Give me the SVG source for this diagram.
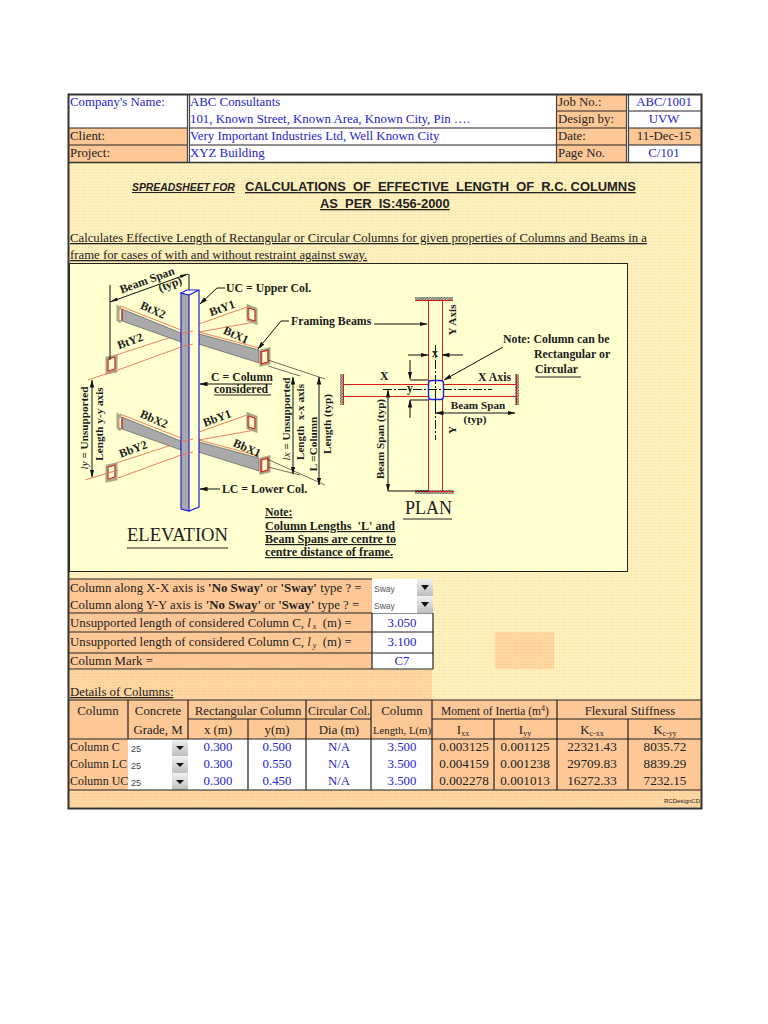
<svg xmlns="http://www.w3.org/2000/svg" width="768" height="1024" viewBox="0 0 768 1024">
<style>
text{font-family:"Liberation Serif","Times New Roman",serif;fill:#222;white-space:pre}
.h{font-size:12.85px}
.n{font-size:13.2px}
.b{fill:#2424d0}
.c{text-anchor:middle}
.sw{font-family:"Liberation Sans",Arial,sans-serif}
.u{text-decoration:underline}
.d{font-size:11.8px;font-weight:bold;fill:#1c1c1c}
.v{font-size:11.2px;font-weight:bold;fill:#1c1c1c;text-anchor:middle}
.m{dominant-baseline:central;text-anchor:middle}
.l{stroke:#222;stroke-width:1.2;fill:none}
.thin{stroke:#333;stroke-width:.7;fill:none}
.dim{stroke:#111;stroke-width:1;fill:none}
.r{stroke:#e01818;stroke-width:1;fill:none}
.o{stroke:#f07050;stroke-width:.9;fill:none}
.bl{stroke:#2020e0;stroke-width:1.2;fill:none}
.cl{stroke:#111;stroke-width:1;stroke-dasharray:9 2 2 2;fill:none}
.beam{fill:#a9a9a9;stroke:#333;stroke-width:.5}
.a{stroke:#111;stroke-width:1;fill:none;marker-end:url(#ar)}
.a2{stroke:#111;stroke-width:1;fill:none;marker-start:url(#arS);marker-end:url(#ar)}
</style>
<defs>
<pattern id="dy" width="3" height="3" patternUnits="userSpaceOnUse"><rect width="3" height="3" fill="#fdf0bd"/><rect width="1" height="1" x="1" y="1" fill="#f6dfa0"/></pattern>
<pattern id="dorg" width="3" height="3" patternUnits="userSpaceOnUse"><rect width="3" height="3" fill="#fdd6a2"/><rect width="1" height="1" x="1" y="1" fill="#f9c488"/></pattern>
<pattern id="hatch" width="2" height="2" patternUnits="userSpaceOnUse" patternTransform="rotate(45)"><rect width="2" height="2" fill="#c8c8a8"/><rect width="1" height="2" fill="#666"/></pattern>
<linearGradient id="btn" x1="0" y1="0" x2="0" y2="1"><stop offset="0" stop-color="#f2f2f2"/><stop offset="1" stop-color="#bdbdbd"/></linearGradient>
<marker id="ar" markerWidth="8" markerHeight="6" refX="7.500" refY="3" orient="auto"><path d="M0 .8L8 3L0 5.200z" fill="#111"/></marker>
<marker id="arS" markerWidth="8" markerHeight="6" refX=".5" refY="3" orient="auto"><path d="M8 .8L0 3L8 5.200z" fill="#111"/></marker>
<g id="beamset">
<path class="o" d="M120 306L181 330M199 332L259 348M110 357L181 334M118 370L181 347M199 324L247 307M199 332L255 322M181 330L190 332"/>
<path class="beam" d="M122 309L181 333V342L122 321z"/>
<path class="beam" d="M192 332L259 350V363L192 342z"/>
<path fill="none" stroke="#111" d="M192 332V342"/>
<path fill="#ffffcf" stroke="#a8a888" stroke-width="3" d="M248 306l8 3v14l-8-3z"/>
<path fill="none" stroke="#e01818" d="M248 308l7 2v11l-7-2z"/>
<path fill="#ffffcf" stroke="#a8a888" stroke-width="3" d="M261 351l8 -2v14l-8 2z"/>
<path fill="none" stroke="#e01818" stroke-width="1.200" d="M261 352l7 -2v12l-7 2z"/>
<path fill="#ffffcf" stroke="#a8a888" stroke-width="3" d="M107 358l9 -2v15l-9 2z"/>
<path fill="none" stroke="#e01818" d="M108 359l7 -2v12l-7 2z"/>
<path fill="none" stroke="#a8a888" stroke-width="3" d="M121 309l-3 -2v13l3 2"/>
<path fill="none" stroke="#e01818" stroke-width="1.200" d="M122 309v12"/>
</g>
</defs>

<g id="background">
<rect x="68" y="94" width="634" height="715" fill="#fff"/>
<rect x="68" y="162" width="634" height="647" fill="url(#dy)"/>
<rect x="69" y="670" width="363" height="30" fill="url(#dorg)"/>
<rect x="495" y="632" width="59" height="37" fill="url(#dorg)"/>
<rect x="69" y="790" width="632" height="17" fill="url(#dorg)"/>
</g>

<g id="header">
<rect x="69" y="128" width="118" height="34" fill="#fec896"/>
<rect x="557" y="95" width="69" height="67" fill="#fec896"/>
<rect x="628" y="128" width="73" height="17" fill="#fec896"/>
<path class="l" d="M69 128H187M69 145H187M189 128H556M189 145H556M557 111H626M557 128H626M557 145H626M628 111H701M628 128H701M628 145H701"/>
<path d="M187.500 95V162M189.500 95V162M556.500 95V162M626.500 95V162M628.500 95V162" stroke="#444" stroke-width="1.200" fill="none"/>
<text class="h b" x="70" y="106">Company's Name:</text>
<text class="h" x="70" y="140">Client:</text>
<text class="h" x="70" y="157">Project:</text>
<text class="h b" x="190" y="106">ABC Consultants</text>
<text class="h b" x="190" y="123">101, Known Street, Known Area, Known City, Pin ….</text>
<text class="h b" x="190" y="140">Very Important Industries Ltd, Well Known City</text>
<text class="h b" x="190" y="157">XYZ Building</text>
<text class="h" x="558" y="106">Job No.:</text>
<text class="h" x="558" y="123">Design by:</text>
<text class="h" x="558" y="140">Date:</text>
<text class="h" x="558" y="157">Page No.</text>
<text class="h b c" x="664" y="106">ABC/1001</text>
<text class="h b c" x="664" y="123">UVW</text>
<text class="h c" x="664" y="140">11-Dec-15</text>
<text class="h b c" x="664" y="157">C/101</text>
</g>

<g id="title">
<text class="sw u" x="132" y="191" font-size="10.400" font-weight="bold" font-style="italic">SPREADSHEET FOR</text>
<text class="sw u" x="245" y="191" font-size="12.900" font-weight="bold">CALCULATIONS  OF  EFFECTIVE  LENGTH  OF  R.C. COLUMNS</text>
<text class="sw u" x="320" y="208" font-size="12.900" font-weight="bold">AS  PER  IS:456-2000</text>
<text class="u" x="70" y="242" font-size="12.760">Calculates Effective Length of Rectangular or Circular Columns for given properties of Columns and Beams in a</text>
<text class="u" x="70" y="259" font-size="12.760">frame for cases of with and without restraint against sway.</text>
</g>

<g id="figure-panel">
<rect x="69.500" y="263.500" width="558" height="308" fill="#ffffcf" stroke="#222" stroke-width="1"/>
</g>

<g id="elevation">
<use href="#beamset"/>
<use href="#beamset" y="108"/>
<rect id="column-white" x="189" y="291" width="10" height="219" fill="#ffffcf"/>
<path d="M181 293L189 295V511L181 509z" fill="#a9a9a9"/>
<path d="M181 293L187 290H199L189 295z" fill="#fff"/>
<path class="bl" d="M181 293V509L189 511L199 507V290H187L181 293L189 295L199 290M189 295V511"/>
<path class="o" d="M181 334L193 331M181 347L193 344M181 442L193 439M181 455L193 452"/>
<path class="thin" d="M268 360L325 379M268 366L300 376M268 467L300 475M267 459L325 485"/>
<path class="o" d="M88 380L117 370M85 480L118 470"/>
<path class="dim" d="M110 285V360M110 302L188 274M189 274V290"/>
<path d="M110 302l8 -1.500l-1 -3z M188 274l-8 1l1 3z" fill="#111"/>
<path class="a" d="M225 288H217L200 304"/>
<path class="a" d="M289 321H281L258 349"/>
<path class="a" d="M272 384H200"/>
<path class="a" d="M220 489H200"/>
<path class="a2" d="M92 380V477"/>
<path class="a2" d="M293 377V474"/>
<path class="a2" d="M319 377V485"/>
<text class="d m" transform="translate(147 280) rotate(-20)">Beam Span</text>
<text class="d m" transform="translate(170 284) rotate(-20)">(typ)</text>
<text class="d" x="226" y="292">UC = Upper Col.</text>
<text class="d" x="291" y="325">Framing Beams</text>
<text class="d m" transform="translate(153 310) rotate(24)">BtX2</text>
<text class="d m" transform="translate(222 308) rotate(-20)">BtY1</text>
<text class="d m" transform="translate(236 335) rotate(24)">BtX1</text>
<text class="d m" transform="translate(130 341) rotate(-20)">BtY2</text>
<text class="d m" transform="translate(154 419) rotate(24)">BbX2</text>
<text class="d m" transform="translate(217 418) rotate(-20)">BbY1</text>
<text class="d m" transform="translate(247 448) rotate(24)">BbX1</text>
<text class="d m" transform="translate(133 449) rotate(-20)">BbY2</text>
<text class="d" x="211" y="381">C = Column</text>
<text class="d" x="214" y="393">considered</text>
<path class="l" d="M214 395H271"/>
<text class="d" x="222" y="493">LC = Lower Col.</text>
<text class="v" transform="translate(88 428) rotate(-90)"><tspan font-style="italic" font-weight="normal">ly</tspan> = Unsupported</text>
<text class="v" transform="translate(103 424) rotate(-90)">Length y-y axis</text>
<text class="v" transform="translate(290 419) rotate(-90)"><tspan font-style="italic" font-weight="normal">lx</tspan> = Unsupported</text>
<text class="v" transform="translate(304 422) rotate(-90)">Length  x-x axis</text>
<text class="v" transform="translate(317 444) rotate(-90)">L =Column</text>
<text class="v" transform="translate(331 424) rotate(-90)">Length (typ)</text>
<text x="127" y="541" font-size="19" textLength="101" lengthAdjust="spacingAndGlyphs">ELEVATION</text>
<path class="l" d="M127 548H228"/>
</g>

<g id="note-lengths">
<text class="d u" x="265" y="516">Note:</text>
<text class="d u" x="265" y="530" textLength="130" lengthAdjust="spacingAndGlyphs">Column Lengths  'L' and</text>
<text class="d u" x="265" y="543" textLength="131" lengthAdjust="spacingAndGlyphs">Beam Spans are centre to</text>
<text class="d u" x="265" y="556" textLength="128" lengthAdjust="spacingAndGlyphs">centre distance of frame.</text>
</g>

<g id="plan">
<path d="M415 299H453M415 492H454" stroke="url(#hatch)" stroke-width="4" fill="none"/>
<path d="M342 374V405M517 374V405" stroke="url(#hatch)" stroke-width="4" fill="none"/>
<path class="r" d="M415 300.500H453M416 491.500H454M343.500 374V405M516.500 374V405"/>
<path class="r" d="M428.500 300V491M442.500 300V491M343 384.500H516M343 396.500H516"/>
<rect x="428.500" y="380.500" width="15" height="19" rx="3" fill="#ffffcf" stroke="#2020e0" stroke-width="1.400"/>
<path class="cl" d="M435.500 345V440M383 389.500H492"/>
<path class="a" d="M408 355H428"/>
<path class="a" d="M463 355H442"/>
<path class="a" d="M410 360V379"/>
<path class="a" d="M410 418V400"/>
<path class="dim" d="M410 380H428M410 400H428M388 491H428"/>
<path class="a" d="M374 324H427"/>
<path class="a2" d="M388 390V491"/>
<path class="a2" d="M436 413H515"/>
<path class="dim" d="M435.500 400V413"/>
<path class="a" d="M503 347L444 380" stroke-width=".7"/>
<text class="d c" x="435" y="357" font-size="9">x</text>
<text class="d c" x="410" y="392">y</text>
<text class="v" transform="translate(456 320) rotate(-90)">Y Axis</text>
<text class="v" transform="translate(456 430) rotate(-90)">Y</text>
<text class="d" x="380" y="380">X</text>
<text class="d" x="478" y="381">X Axis</text>
<text class="v" x="478" y="409">Beam Span</text>
<text class="v" x="475" y="423">(typ)</text>
<text class="v" transform="translate(384 439) rotate(-90)">Beam Span (typ)</text>
<text class="d" x="503" y="343">Note: Column can be</text>
<text class="d" x="534" y="358">Rectangular or</text>
<text class="d" x="535" y="373">Circular</text>
<path class="l" d="M535 377H581"/>
<text x="405" y="514" font-size="19" textLength="47" lengthAdjust="spacingAndGlyphs">PLAN</text>
<path class="l" d="M403 519H452"/>
</g>

<g id="inputs">
<rect x="69" y="579" width="303" height="90" fill="#fec896"/>
<rect x="372" y="613" width="61" height="56" fill="#fff"/>
<path class="l" d="M69 579H372M69 613H433M69 632H433M69 653H433M69 669H433M372 613V669M433 613V669"/>
<text class="h" x="70" y="592">Column along X-X axis is <tspan font-weight="bold">'No Sway'</tspan> or <tspan font-weight="bold">'Sway'</tspan> type ? =</text>
<text class="h" x="70" y="609">Column along Y-Y axis is <tspan font-weight="bold">'No Sway'</tspan> or <tspan font-weight="bold">'Sway'</tspan> type ? =</text>
<text class="h" x="70" y="627">Unsupported length of considered Column C, <tspan font-style="italic">l</tspan><tspan font-size="8" dy="2" font-style="italic"> x</tspan><tspan dy="-2">  (m) =</tspan></text>
<text class="h" x="70" y="646">Unsupported length of considered Column C, <tspan font-style="italic">l</tspan><tspan font-size="8" dy="2" font-style="italic"> y</tspan><tspan dy="-2">  (m) =</tspan></text>
<text class="h" x="70" y="665">Column Mark =</text>
<g id="dropdown-x"><rect x="372" y="579" width="61" height="17" fill="#fff"/><rect x="417" y="579" width="16" height="17" fill="url(#btn)"/><path d="M421 585h8l-4 5z" fill="#111"/><text class="sw" x="374" y="592" font-size="8.500" style="fill:#555">Sway</text></g>
<g id="dropdown-y"><rect x="372" y="596" width="61" height="17" fill="#fff"/><rect x="417" y="596" width="16" height="17" fill="url(#btn)"/><path d="M421 602h8l-4 5z" fill="#111"/><text class="sw" x="374" y="609" font-size="8.500" style="fill:#555">Sway</text></g>
<text class="h b c" x="402" y="627">3.050</text>
<text class="h b c" x="402" y="646">3.100</text>
<text class="h b c" x="402" y="665">C7</text>
<text class="h u" x="70" y="696">Details of Columns:</text>
</g>

<g id="table">
<rect x="69" y="700" width="632" height="39" fill="#fec896"/>
<rect x="69" y="739" width="59" height="51" fill="#fec896"/>
<rect x="188" y="739" width="244" height="51" fill="#fff"/>
<rect x="432" y="739" width="269" height="51" fill="#fec896"/>
<g id="dd1"><rect x="128" y="739" width="60" height="17" fill="#fff"/><rect x="172" y="739" width="16" height="17" fill="url(#btn)"/><path d="M176 746h8l-4 4z" fill="#111"/><text class="sw" x="131" y="752" font-size="9" style="fill:#444">25</text></g>
<g id="dd2"><rect x="128" y="756" width="60" height="17" fill="#fff"/><rect x="172" y="756" width="16" height="17" fill="url(#btn)"/><path d="M176 763h8l-4 4z" fill="#111"/><text class="sw" x="131" y="769" font-size="9" style="fill:#444">25</text></g>
<g id="dd3"><rect x="128" y="773" width="60" height="17" fill="#fff"/><rect x="172" y="773" width="16" height="17" fill="url(#btn)"/><path d="M176 780h8l-4 4z" fill="#111"/><text class="sw" x="131" y="786" font-size="9" style="fill:#444">25</text></g>
<path class="l" d="M69 700H701M188 719H371M432 719H701M69 739H701M69 790H701M128 700V739M188 700V739M248 719V790M306 700V790M371 700V790M432 700V790M494 719V790M557 700V790M628 719V790"/>
<text class="h c" x="98" y="715">Column</text>
<text class="h c" x="158" y="715">Concrete</text>
<text class="h c" x="158" y="734">Grade, M</text>
<text class="h c" x="248" y="715">Rectangular Column</text>
<text class="h c" x="218" y="734">x (m)</text>
<text class="h c" x="277" y="734">y(m)</text>
<text class="c" x="339" y="715" font-size="11.900">Circular Col.</text>
<text class="h c" x="339" y="734">Dia (m)</text>
<text class="h c" x="402" y="715">Column</text>
<text class="c" x="402" y="734" font-size="10.800">Length, L(m)</text>
<text class="c" x="495" y="715" font-size="11.500">Moment of Inertia (m<tspan font-size="8" dy="-4">4</tspan><tspan dy="4">)</tspan></text>
<text class="h c" x="630" y="715">Flexural Stiffness</text>
<text class="h c" x="463" y="734">I<tspan font-size="8" dy="2">xx</tspan></text>
<text class="h c" x="525" y="734">I<tspan font-size="8" dy="2">yy</tspan></text>
<text class="h c" x="592" y="734">K<tspan font-size="8" dy="2">c-xx</tspan></text>
<text class="h c" x="665" y="734">K<tspan font-size="8" dy="2">c-yy</tspan></text>
<text x="70" y="751" font-size="12">Column C</text>
<text x="70" y="768" font-size="12">Column LC</text>
<text x="70" y="785" font-size="12">Column UC</text>
<text class="h b c" x="218" y="751">0.300</text><text class="h b c" x="277" y="751">0.500</text><text class="h b c" x="339" y="751">N/A</text><text class="h b c" x="402" y="751">3.500</text>
<text class="h b c" x="218" y="768">0.300</text><text class="h b c" x="277" y="768">0.550</text><text class="h b c" x="339" y="768">N/A</text><text class="h b c" x="402" y="768">3.500</text>
<text class="h b c" x="218" y="785">0.300</text><text class="h b c" x="277" y="785">0.450</text><text class="h b c" x="339" y="785">N/A</text><text class="h b c" x="402" y="785">3.500</text>
<text class="n c" x="464" y="751">0.003125</text><text class="n c" x="525" y="751">0.001125</text><text class="n c" x="592" y="751">22321.43</text><text class="n c" x="665" y="751">8035.72</text>
<text class="n c" x="464" y="768">0.004159</text><text class="n c" x="525" y="768">0.001238</text><text class="n c" x="592" y="768">29709.83</text><text class="n c" x="665" y="768">8839.29</text>
<text class="n c" x="464" y="785">0.002278</text><text class="n c" x="525" y="785">0.001013</text><text class="n c" x="592" y="785">16272.33</text><text class="n c" x="665" y="785">7232.15</text>
<text class="sw" x="700" y="803" font-size="6" text-anchor="end">RCDesignCD</text>
</g>

<g id="frame">
<rect x="68.500" y="94.500" width="633" height="714" fill="none" stroke="#333" stroke-width="2"/>
<path d="M68 162.500H702" stroke="#333" stroke-width="1.500"/>
</g>
</svg>
